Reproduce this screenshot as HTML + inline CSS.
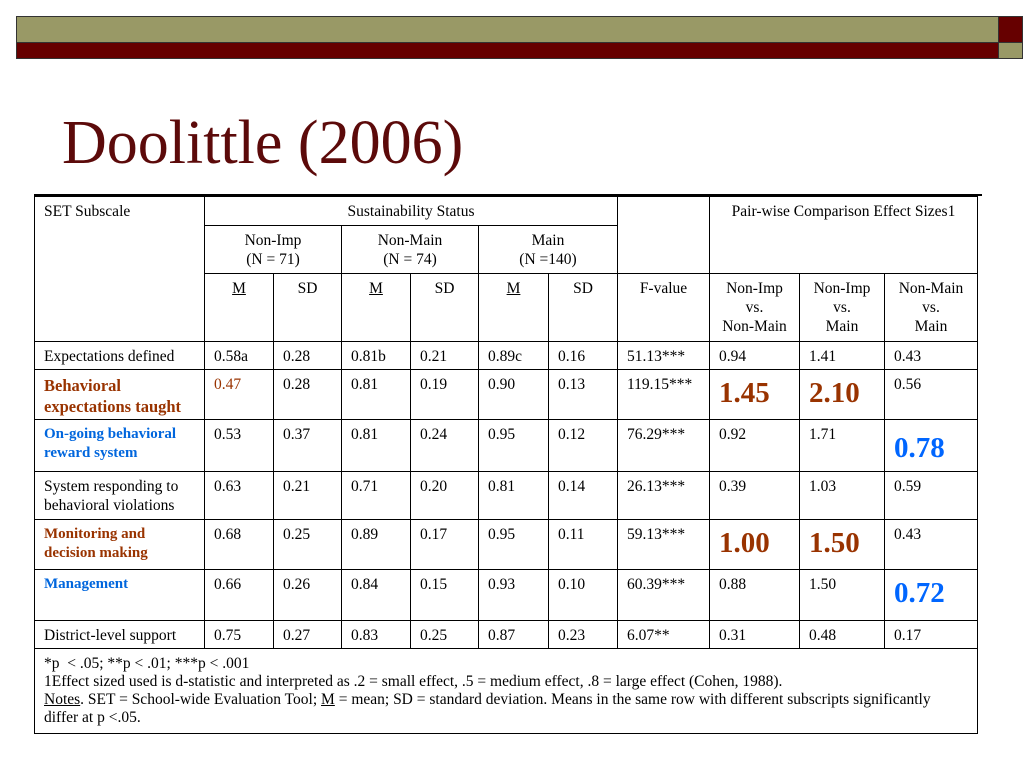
<!DOCTYPE html>
<html><head><meta charset="utf-8"><style>
body{margin:0;width:1024px;height:768px;background:#fff;position:relative;overflow:hidden;font-family:"Liberation Serif",serif;}
.bar{position:absolute;border:1px solid #333;box-sizing:border-box}
h1{position:absolute;left:62px;top:112px;margin:0;font-weight:normal;font-size:62px;color:#5c0a0a;line-height:1}
table{position:absolute;left:34px;top:196px;border-collapse:collapse;table-layout:fixed;font-size:15.5px;color:#000}
td{border:1px solid #000;vertical-align:top;padding:5px 0 0 9px;line-height:19px;overflow:hidden;white-space:nowrap}
.c{text-align:center;padding-left:0}
.br{color:#993300;font-weight:bold}
.bl{color:#0066dd;font-weight:bold;font-size:15px}
.big{font-size:29px;font-weight:bold;line-height:30px;display:block;margin-top:3px}
.bigb{font-size:29px;font-weight:bold;line-height:30px;display:block;margin-top:8px;color:#0066ff}
u{text-decoration:underline}
</style></head><body>
<div class="bar" style="left:16px;top:16px;width:983px;height:27px;background:#999966"></div>
<div class="bar" style="left:16px;top:42px;width:983px;height:17px;background:#660000"></div>
<div class="bar" style="left:998px;top:16px;width:25px;height:27px;background:#660000"></div>
<div class="bar" style="left:998px;top:42px;width:25px;height:17px;background:#999966"></div>
<h1>Doolittle (2006)</h1>
<div style="position:absolute;left:34px;top:194px;width:948px;height:2px;background:#000"></div>
<table>
<colgroup><col style="width:170px"><col style="width:69px"><col style="width:68px"><col style="width:69px"><col style="width:68px"><col style="width:70px"><col style="width:69px"><col style="width:92px"><col style="width:90px"><col style="width:85px"><col style="width:93px"></colgroup>
<tr style="height:29px"><td rowspan="3">SET Subscale</td><td colspan="6" class="c">Sustainability Status</td><td rowspan="2"></td><td colspan="3" rowspan="2" class="c">Pair-wise Comparison Effect Sizes1</td></tr>
<tr style="height:48px"><td colspan="2" class="c">Non-Imp<br>(N = 71)</td><td colspan="2" class="c">Non-Main<br>(N = 74)</td><td colspan="2" class="c">Main<br>(N =140)</td></tr>
<tr style="height:68px"><td class="c"><u>M</u></td><td class="c">SD</td><td class="c"><u>M</u></td><td class="c">SD</td><td class="c"><u>M</u></td><td class="c">SD</td><td class="c">F-value</td><td class="c">Non-Imp<br>vs.<br>Non-Main</td><td class="c">Non-Imp<br>vs.<br>Main</td><td class="c">Non-Main<br>vs.<br>Main</td></tr>
<tr style="height:28px"><td>Expectations defined</td><td>0.58a</td><td>0.28</td><td>0.81b</td><td>0.21</td><td>0.89c</td><td>0.16</td><td>51.13***</td><td>0.94</td><td>1.41</td><td>0.43</td></tr>
<tr style="height:50px"><td class="br" style="font-size:16.5px;line-height:21px;padding-top:5px">Behavioral<br>expectations taught</td><td style="color:#993300">0.47</td><td>0.28</td><td>0.81</td><td>0.19</td><td>0.90</td><td>0.13</td><td>119.15***</td><td><span class="big" style="color:#993300">1.45</span></td><td><span class="big" style="color:#993300">2.10</span></td><td>0.56</td></tr>
<tr style="height:52px"><td class="bl">On-going behavioral<br>reward system</td><td>0.53</td><td>0.37</td><td>0.81</td><td>0.24</td><td>0.95</td><td>0.12</td><td>76.29***</td><td>0.92</td><td>1.71</td><td><span class="bigb">0.78</span></td></tr>
<tr style="height:48px"><td>System responding to<br>behavioral violations</td><td>0.63</td><td>0.21</td><td>0.71</td><td>0.20</td><td>0.81</td><td>0.14</td><td>26.13***</td><td>0.39</td><td>1.03</td><td>0.59</td></tr>
<tr style="height:50px"><td class="br" style="font-size:15px">Monitoring and<br>decision making</td><td>0.68</td><td>0.25</td><td>0.89</td><td>0.17</td><td>0.95</td><td>0.11</td><td>59.13***</td><td><span class="big" style="color:#993300">1.00</span></td><td><span class="big" style="color:#993300">1.50</span></td><td>0.43</td></tr>
<tr style="height:51px"><td class="bl">Management</td><td>0.66</td><td>0.26</td><td>0.84</td><td>0.15</td><td>0.93</td><td>0.10</td><td>60.39***</td><td>0.88</td><td>1.50</td><td><span class="bigb" style="margin-top:3px">0.72</span></td></tr>
<tr style="height:28px"><td>District-level support</td><td>0.75</td><td>0.27</td><td>0.83</td><td>0.25</td><td>0.87</td><td>0.23</td><td>6.07**</td><td>0.31</td><td>0.48</td><td>0.17</td></tr>
<tr style="height:85px"><td colspan="11" style="padding-top:6px;line-height:18px">*p &nbsp;&lt; .05; **p &lt; .01; ***p &lt; .001<br>1Effect sized used is d-statistic and interpreted as .2 = small effect, .5 = medium effect, .8 = large effect (Cohen, 1988).<br><u>Notes</u>. SET = School-wide Evaluation Tool; <u>M</u> = mean; SD = standard deviation. Means in the same row with different subscripts significantly<br>differ at p &lt;.05.</td></tr>
</table>
</body></html>
